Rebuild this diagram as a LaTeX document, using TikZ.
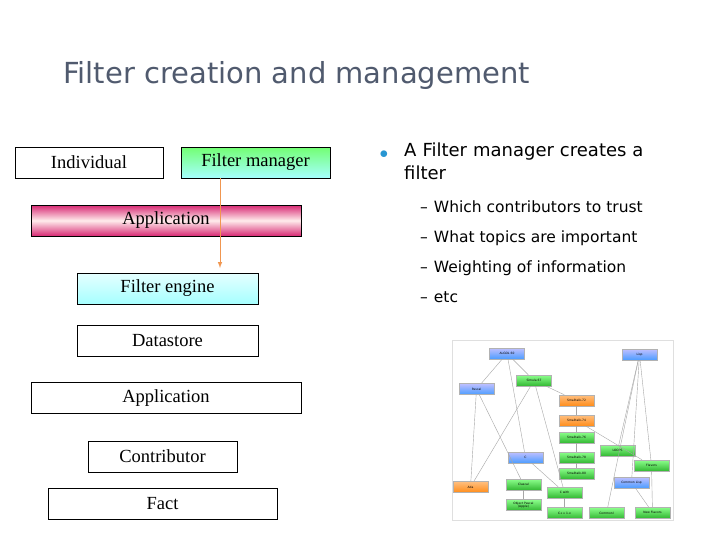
\documentclass[tikz,border=0pt]{standalone}
\usepackage{fontspec}
\setmainfont{Liberation Serif}
\newfontfamily\slidefont{DejaVu Sans}
\usetikzlibrary{arrows.meta}
\definecolor{titlegray}{RGB}{80,90,110}
\definecolor{bulletblue}{RGB}{40,150,210}
\definecolor{arroworange}{RGB}{240,150,80}
\definecolor{rose}{RGB}{215,40,115}
\tikzset{
  layer/.style={draw, line width=0.6pt, minimum height=31pt, inner sep=0pt, font=\fontsize{18.5}{20}\selectfont},
  lang/.style={draw=gray!60, minimum width=35pt, minimum height=11pt, inner sep=0pt, font=\fontsize{3}{3.5}\selectfont\slidefont},
  blue lang/.style={lang, top color=blue!25, bottom color=blue!55!cyan!70},
  green lang/.style={lang, top color=green!45, bottom color=green!65!black!80},
  orange lang/.style={lang, top color=orange!50, bottom color=orange!90},
  link/.style={gray!70, line width=0.4pt}
}
\begin{document}
\begin{tikzpicture}[x=1pt,y=-1pt,>=latex]
\useasboundingbox (0,0) rectangle (728,546);
% title
\node[anchor=base west, inner sep=0pt, text=titlegray, font=\fontsize{29}{32}\selectfont\slidefont] (title) at (63,83) {Filter creation and management};
% layers
\node[layer, minimum width=148pt] (indiv) at (89,162.5) {Individual};
\node[layer, minimum width=149pt, top color=green!55, bottom color=cyan!35] (fman) at (255.5,162.5) {Filter manager};
\node[layer, minimum width=270pt, top color=rose, bottom color=rose, middle color=pink!30] (app1) at (166,220.5) {Application};
\node[layer, minimum width=181pt, top color=cyan!10, bottom color=cyan!35] (fengine) at (167.5,288.5) {Filter engine};
\node[layer, minimum width=181pt] (store) at (167.5,340.5) {Datastore};
\node[layer, minimum width=270pt] (app2) at (166,398) {Application};
\node[layer, minimum width=149pt] (contrib) at (162.5,456.5) {Contributor};
\node[layer, minimum width=229pt] (fact) at (162.5,503.5) {Fact};
\coordinate (tip) at (220,268);
\draw[->, arroworange, line width=1pt] (fman.south -| tip) -- (tip);
% bullets
\node[text=bulletblue, font=\fontsize{16}{18}\selectfont\slidefont] (b0) at (384,155) {$\bullet$};
\node[anchor=north west, align=left, text width=300pt, inner sep=0pt, font=\fontsize{18}{23}\selectfont\slidefont] (b1) at (404,143) {A Filter manager creates a\\filter};
\foreach \t [count=\i] in {Which contributors to trust, What topics are important, Weighting of information, etc}
  \node[anchor=base west, inner sep=0pt, font=\fontsize{15.5}{17}\selectfont\slidefont] (s\i) at (420,212+\i*30-30) {\textendash\hspace{6pt}\t};
% language chart
\draw[gray!25, fill=white] (452,340) rectangle (673,520);
\node[blue lang] (algol) at (507,353.5) {ALGOL 60};
\node[blue lang] (lisp) at (639.5,354.5) {Lisp};
\node[blue lang] (pascal) at (476.5,389) {Pascal};
\node[green lang] (simula) at (534,380.5) {Simula 67};
\node[orange lang] (st72) at (576.5,400.5) {Smalltalk-72};
\node[orange lang] (st74) at (576.5,420.5) {Smalltalk-74};
\node[green lang] (st76) at (576.5,437.5) {Smalltalk-76};
\node[green lang] (st78) at (576.5,457.5) {Smalltalk-78};
\node[green lang] (st80) at (576.5,473.5) {Smalltalk-80};
\node[green lang] (loops) at (617.5,450.5) {LOOPS};
\node[green lang] (flavors) at (651.5,465.5) {Flavors};
\node[blue lang] (clang) at (525.5,457.5) {C};
\node[blue lang] (clisp) at (631.5,482.5) {Common Lisp};
\node[orange lang] (ada) at (470.5,487) {Ada};
\node[green lang] (clascal) at (523.5,484.5) {Clascal};
\node[green lang] (cwith) at (564.5,492.5) {C with};
\node[green lang, align=center] (objp) at (523.5,505) {Object Pascal\\(Apple)};
\node[green lang] (cpp) at (564.5,513) {C++ 1.x};
\node[green lang] (cobj) at (606.5,513) {Commonl};
\node[green lang] (newfl) at (652.5,512.5) {New Flavors};
\foreach \a/\b in {algol/pascal, algol/simula, algol/clang, simula/st72, simula/ada, simula/cwith,
  pascal/ada, pascal/clascal, clang/cwith, st72/st74, st74/st76, st76/st78, st78/st80,
  st74/flavors, lisp/loops, lisp/flavors, lisp/clisp, lisp/cobj, flavors/newfl, clisp/newfl,
  clascal/objp, cwith/cpp}
  \draw[link] (\a) -- (\b);
\end{tikzpicture}
\end{document}
